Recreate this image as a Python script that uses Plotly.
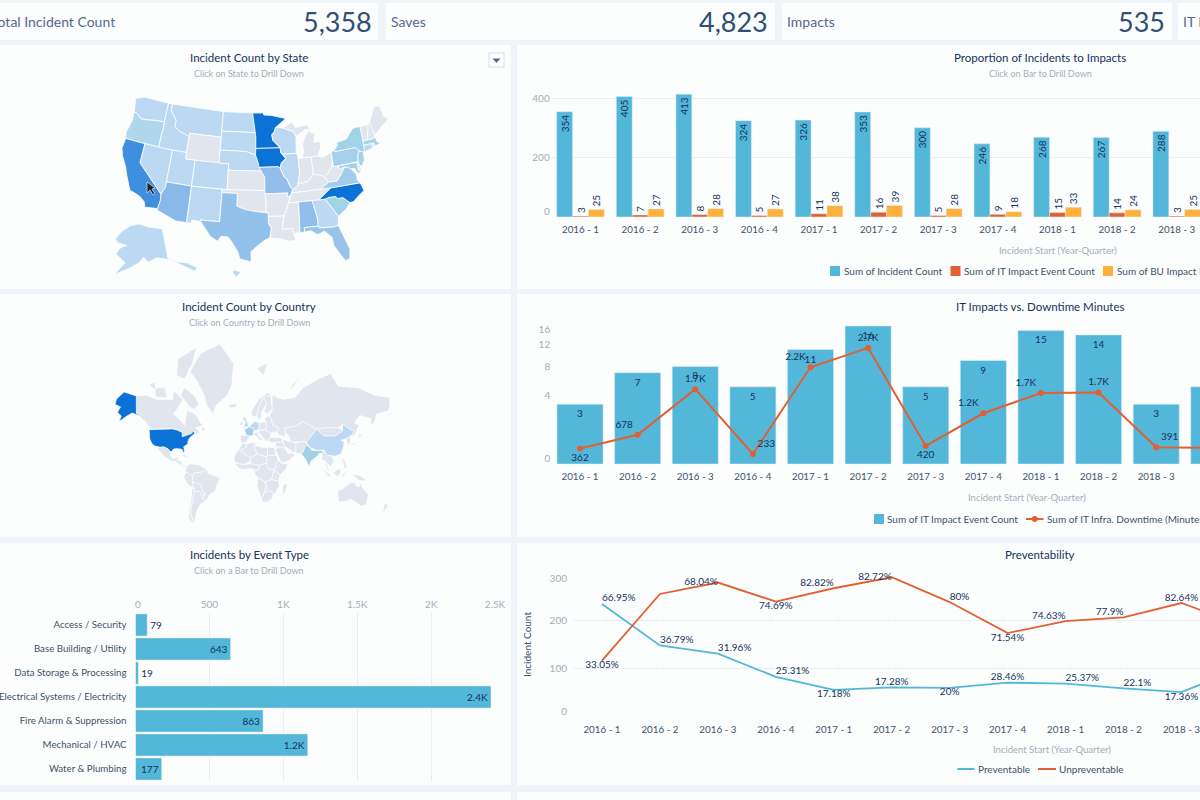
import numpy as np
import plotly.graph_objects as go

W, H = 1200, 800
FONT = "Lato"
NAVY = "#16325c"
GREY = "#a4adb8"
SLATE = "#54698d"
BLUE = "#52b7d8"
RED = "#e16032"
ORANGE = "#ffb03b"
GRID = "#eceff2"

quarters = ["2016 - 1", "2016 - 2", "2016 - 3", "2016 - 4", "2017 - 1", "2017 - 2",
            "2017 - 3", "2017 - 4", "2018 - 1", "2018 - 2", "2018 - 3", "2018 - 4"]

incident_count = [354, 405, 413, 324, 326, 353, 300, 246, 268, 267, 288]
it_impact_count = [3, 7, 8, 5, 11, 16, 5, 9, 15, 14, 3]
bu_impact_count = [25, 27, 28, 27, 38, 39, 28, 18, 33, 24, 25]
count_ticks = [0, 200, 400]
count_tick_text = ["0", "200", "400"]
count_label_at = [17, 200.01, 400.01]

it_events = [3, 7, 8, 5, 11, 16, 5, 9, 15, 14, 3, 5]
downtime = [362, 678, 1740, 233, 2250, 2700, 420, 1180, 1650, 1660, 391, 370]
downtime_text = ["362", "678", "1.7K", "233", "2.2K", "2.7K", "420", "1.2K", "1.7K", "1.7K", "391", ""]
downtime_pos = ["bottom center", "top left", "top center", "top right", "top left", "top center",
                "bottom center", "top left", "top left", "top center", "top right", "top right"]
sqrt_ticks = [0, 4, 8, 12, 16]
sqrt_label_at = [0.03, 4, 8, 12, 15.3]

preventable = [235, 148, 131, 82, 55, 60, 59, 70, 68, 58, 50, 99]
unpreventable = [116, 256, 280, 240, 268, 291, 239, 174, 199, 207, 237, 192]
prev_text = ["66.95%", "36.79%", "31.96%", "25.31%", "17.18%", "17.28%", "20%", "28.46%", "25.37%", "22.1%", "17.36%", ""]
prev_pos = ["top right", "top right", "top right", "top right", "bottom center", "top center",
            "bottom center", "top center", "top right", "top right", "bottom center", "top center"]
unprev_text = ["33.05%", "", "68.04%", "74.69%", "82.82%", "82.72%", "80%", "71.54%", "74.63%", "77.9%", "82.64%", ""]
unprev_pos = ["bottom center", "top center", "middle left", "bottom center", "top left", "middle left",
              "top right", "bottom center", "top left", "top left", "top center", "top center"]
incident_ticks = [0, 100, 200, 300]
incident_tick_text = ["0", "100", "200", "300"]
incident_label_at = [10, 100.01, 200.01, 289]

event_types = ["Access / Security", "Base Building / Utility", "Data Storage & Processing",
               "Electrical Systems / Electricity", "Fire Alarm & Suppression", "Mechanical / HVAC", "Water & Plumbing"]
event_counts = [79, 643, 19, 2405, 863, 1165, 177]
event_text = ["79", "643", "19", "2.4K", "863", "1.2K", "177"]
event_pos = ["outside", "inside", "outside", "inside", "inside", "inside", "inside"]
event_ticks = [0, 500, 1000, 1500, 2000, 2500]
event_tick_text = ["0", "500", "1K", "1.5K", "2K", "2.5K"]
event_label_at = [17, 500.01, 1000.01, 1500.01, 2000.01, 2432]

# Choropleth levels read from the shading (0 = no incidents, 100 = darkest)
state_level = {"MN": 100, "IA": 100, "NC": 100, "CA": 78, "AZ": 45, "TX": 40, "FL": 38, "AL": 42, "MO": 42,
               "PA": 32, "NY": 30, "VA": 33, "SC": 27, "NJ": 30, "MD": 30, "MA": 25, "WA": 18, "OR": 22, "ID": 18,
               "MT": 18, "ND": 18, "SD": 18, "NE": 18, "NV": 18, "UT": 18, "CO": 18, "NM": 18, "WI": 18, "IL": 18,
               "GA": 18, "AK": 18, "CT": 18, "HI": 18}
us_scale = [(0, "#e0e5ee"), (18, "#bcd9f3"), (27, "#a0d4e4"), (32, "#a4d0ee"), (45, "#8ab8e8"), (78, "#3f8fe0"),
            (100, "#0b73d6")]
country_level = {"USA": 100, "USA-AK": 100, "China": 18, "India": 27, "France": 32, "UK": 18, "Germany": 18}

# Simplified outlines as (lon, lat)
US_OUTLINES = {
    "WA": [(-124.7, 48.4), (-122.8, 49), (-117.03, 49), (-117.03, 46), (-119, 45.9), (-121, 45.65), (-122.3, 45.55), (-123.4, 46.2), (-124.1, 46.3)],
    "OR": [(-124.1, 46.3), (-123.4, 46.2), (-122.3, 45.55), (-121, 45.65), (-119, 45.9), (-117.03, 46), (-116.9, 45), (-117.03, 44.2), (-117.03, 42), (-124.2, 42), (-124.5, 43), (-124, 44.8)],
    "CA": [(-124.2, 42), (-120, 42), (-120, 39), (-114.63, 35), (-114.5, 34.2), (-114.72, 32.72), (-117.12, 32.53), (-117.4, 33.3), (-118.5, 34), (-120.6, 34.55), (-121.9, 36.6), (-122.5, 37.7), (-123.8, 39.3), (-124.35, 40.4)],
    "NV": [(-120, 42), (-114.04, 42), (-114.04, 36.2), (-114.63, 35), (-120, 39)],
    "ID": [(-117.03, 49), (-116.05, 49), (-116.05, 48), (-114.5, 46.6), (-114.5, 45.6), (-113.5, 45.1), (-111.05, 44.5), (-111.05, 42), (-114.04, 42), (-117.03, 42), (-117.03, 44.2), (-116.9, 45), (-117.03, 46)],
    "MT": [(-116.05, 49), (-104.05, 49), (-104.05, 45), (-111.05, 45), (-111.05, 44.5), (-113.5, 45.1), (-114.5, 45.6), (-114.5, 46.6), (-116.05, 48)],
    "WY": [(-111.05, 45), (-104.05, 45), (-104.05, 41), (-111.05, 41)],
    "UT": [(-114.04, 42), (-111.05, 42), (-111.05, 41), (-109.05, 41), (-109.05, 37), (-114.04, 37)],
    "AZ": [(-114.04, 37), (-109.05, 37), (-109.05, 31.33), (-111.07, 31.33), (-114.81, 32.5), (-114.72, 32.72), (-114.5, 34.2), (-114.63, 35), (-114.04, 36.2)],
    "CO": [(-109.05, 41), (-102.05, 41), (-102.05, 37), (-109.05, 37)],
    "NM": [(-109.05, 37), (-103, 37), (-103.04, 32), (-106.6, 32), (-106.5, 31.78), (-108.2, 31.78), (-108.2, 31.33), (-109.05, 31.33)],
    "ND": [(-104.05, 49), (-97.23, 49), (-96.6, 46.3), (-96.56, 45.94), (-104.05, 45.94)],
    "SD": [(-104.05, 45.94), (-96.56, 45.94), (-96.45, 45.3), (-96.45, 43.5), (-96.5, 42.5), (-98.5, 43), (-104.05, 43)],
    "NE": [(-104.05, 43), (-98.5, 43), (-96.5, 42.5), (-95.9, 41.2), (-95.3, 40), (-102.05, 40), (-102.05, 41), (-104.05, 41)],
    "KS": [(-102.05, 40), (-95.3, 40), (-94.62, 39.1), (-94.62, 37), (-102.05, 37)],
    "OK": [(-103, 37), (-94.62, 37), (-94.43, 35.4), (-94.48, 33.64), (-96.5, 33.8), (-98.5, 34.1), (-100, 34.56), (-100, 36.5), (-103, 36.5)],
    "TX": [(-103, 36.5), (-100, 36.5), (-100, 34.56), (-98.5, 34.1), (-96.5, 33.8), (-94.48, 33.64), (-94.04, 33.55), (-94.04, 31.99), (-93.55, 31.2), (-93.84, 29.7), (-94.7, 29.4), (-95.9, 28.6), (-97.2, 27.6), (-97.15, 25.96), (-99.1, 26.4), (-99.5, 27.5), (-100.7, 29.1), (-101.4, 29.77), (-102.6, 29.75), (-103.15, 28.98), (-104.5, 29.6), (-106.5, 31.78), (-106.6, 32), (-103.04, 32)],
    "MN": [(-97.23, 49), (-95.15, 49), (-95.15, 49.38), (-94.6, 48.7), (-92.9, 48.6), (-89.6, 48), (-92, 46.7), (-92.3, 46.1), (-92.9, 45.6), (-92.75, 44.75), (-91.2, 43.5), (-96.45, 43.5), (-96.45, 45.3), (-96.56, 45.94), (-96.6, 46.3)],
    "IA": [(-96.45, 43.5), (-91.2, 43.5), (-91.1, 42.7), (-90.15, 41.8), (-91.1, 41.2), (-91.42, 40.38), (-91.73, 40.61), (-95.77, 40.58), (-95.9, 41.2), (-96.5, 42.5)],
    "MO": [(-95.77, 40.58), (-91.73, 40.61), (-91.42, 40.38), (-90.7, 39), (-90.2, 38.7), (-89.5, 37.3), (-89.15, 36.95), (-89.7, 36), (-90.37, 36), (-90.15, 36.5), (-94.62, 36.5), (-94.62, 39.1), (-95.3, 40)],
    "AR": [(-94.62, 36.5), (-90.15, 36.5), (-90.37, 36), (-89.7, 36), (-90.1, 35), (-91.1, 33), (-94.04, 33.02), (-94.04, 33.55), (-94.48, 33.64), (-94.43, 35.4)],
    "LA": [(-94.04, 33.02), (-91.1, 33), (-91.6, 31), (-89.73, 31), (-89.6, 30.2), (-89.2, 29.1), (-90.6, 29.1), (-92.3, 29.55), (-93.84, 29.7), (-93.55, 31.2), (-94.04, 31.99)],
    "MS": [(-90.1, 35), (-88.2, 35), (-88.4, 30.3), (-89.6, 30.2), (-89.73, 31), (-91.6, 31), (-91.1, 33)],
    "WI": [(-92, 46.7), (-90.4, 46.55), (-88.1, 45.9), (-87.6, 45.1), (-87.8, 43), (-87.8, 42.5), (-90.64, 42.5), (-91.1, 42.7), (-91.2, 43.5), (-92.75, 44.75), (-92.9, 45.6), (-92.3, 46.1)],
    "IL": [(-90.64, 42.5), (-87.8, 42.5), (-87.53, 41.7), (-87.53, 39.3), (-88.05, 37.8), (-88.1, 37.5), (-89.15, 36.95), (-89.5, 37.3), (-90.2, 38.7), (-90.7, 39), (-91.42, 40.38), (-91.1, 41.2), (-90.15, 41.8)],
    "IN": [(-87.53, 41.7), (-84.8, 41.7), (-84.8, 39.1), (-86, 38), (-88.05, 37.8), (-87.53, 39.3)],
    "MI": [(-84.8, 41.7), (-83.45, 41.72), (-82.5, 43), (-82.6, 43.9), (-83.9, 43.9), (-83.4, 45.1), (-84.7, 45.75), (-85.6, 45), (-86.3, 43.9), (-86.3, 42.5), (-86.8, 41.76)],
    "MI-U": [(-90.4, 46.55), (-88.2, 47.4), (-87.5, 46.5), (-85, 46.7), (-84.1, 46), (-85.5, 46), (-87.6, 45.1), (-88.1, 45.9)],
    "OH": [(-84.8, 41.7), (-83.45, 41.72), (-82.5, 41.4), (-80.52, 42), (-80.52, 40.64), (-80.9, 39.7), (-81.7, 39), (-82.6, 38.45), (-84.8, 39.1)],
    "KY": [(-89.15, 36.95), (-88.1, 37.5), (-88.05, 37.8), (-86, 38), (-84.8, 39.1), (-82.6, 38.45), (-81.97, 37.54), (-83.67, 36.6), (-88.06, 36.5), (-89.4, 36.5)],
    "TN": [(-90.1, 35), (-89.7, 36), (-89.4, 36.5), (-88.06, 36.5), (-83.67, 36.6), (-81.68, 36.59), (-84.32, 35), (-88.2, 35)],
    "AL": [(-88.2, 35), (-85.6, 35), (-85, 32.3), (-85, 31), (-87.6, 31), (-87.5, 30.3), (-88.4, 30.3)],
    "GA": [(-85.6, 35), (-83.1, 35), (-81.1, 32.1), (-81.4, 30.7), (-82.2, 30.55), (-84.86, 30.7), (-85, 31), (-85, 32.3)],
    "FL": [(-87.6, 31), (-85, 31), (-84.86, 30.7), (-82.2, 30.55), (-81.4, 30.7), (-80.5, 28.4), (-80.03, 26.8), (-80.3, 25.3), (-81.1, 25.1), (-81.8, 26.2), (-82.7, 27.7), (-82.8, 29), (-84, 30.1), (-85.3, 29.7), (-86.4, 30.4), (-87.5, 30.3)],
    "SC": [(-83.1, 35), (-82.3, 35.2), (-81, 35.15), (-80.8, 34.82), (-79.7, 34.8), (-78.55, 33.86), (-79.3, 33.1), (-81.1, 32.1)],
    "NC": [(-84.32, 35), (-81.68, 36.59), (-75.9, 36.55), (-75.5, 35.25), (-76.6, 34.7), (-77.9, 33.9), (-78.55, 33.86), (-79.7, 34.8), (-80.8, 34.82), (-81, 35.15), (-82.3, 35.2), (-83.1, 35)],
    "VA": [(-83.67, 36.6), (-81.97, 37.54), (-80.3, 37.5), (-79.3, 38.4), (-78.35, 39.4), (-77.7, 39.3), (-77.1, 38.9), (-76.3, 37.9), (-76.3, 37), (-75.9, 36.55), (-81.68, 36.59)],
    "WV": [(-82.6, 38.45), (-81.7, 39), (-80.9, 39.7), (-80.52, 40.64), (-80.52, 39.72), (-79.48, 39.72), (-79.48, 39.2), (-78.35, 39.4), (-79.3, 38.4), (-80.3, 37.5), (-81.97, 37.54)],
    "PA": [(-80.52, 42), (-79.76, 42.27), (-79.76, 42), (-75.35, 42), (-74.7, 41.36), (-75.1, 40.9), (-75.4, 39.8), (-80.52, 39.72), (-80.52, 40.64)],
    "NY": [(-79.76, 42), (-79.76, 42.27), (-78.9, 42.9), (-79.1, 43.3), (-76.8, 43.6), (-76.2, 44.1), (-75, 45), (-73.35, 45), (-73.35, 43.6), (-73.5, 42.05), (-73.5, 41.3), (-73.9, 41), (-74.7, 41.36), (-75.35, 42)],
    "NJ": [(-74.7, 41.36), (-73.9, 41), (-74.1, 39.8), (-74.9, 38.95), (-75.5, 39.5), (-75.1, 40.9)],
    "DE": [(-75.75, 39.72), (-75.4, 39.8), (-75.05, 38.45), (-75.7, 38.45)],
    "MD": [(-79.48, 39.72), (-75.75, 39.72), (-75.7, 38.45), (-75.05, 38.45), (-75.9, 37.95), (-76.4, 38.9), (-77.1, 38.9), (-77.7, 39.3), (-78.35, 39.4), (-79.48, 39.2)],
    "CT": [(-73.5, 42.05), (-71.8, 42.02), (-71.85, 41.32), (-73.7, 41)],
    "RI": [(-71.8, 42.02), (-71.38, 42.02), (-71.2, 41.5), (-71.85, 41.32)],
    "MA": [(-73.5, 42.75), (-71.3, 42.7), (-70.8, 42.85), (-70.6, 42.1), (-70, 41.7), (-71.2, 41.5), (-71.38, 42.02), (-73.5, 42.05)],
    "VT": [(-73.35, 45), (-71.5, 45), (-72.45, 42.73), (-73.5, 42.75), (-73.35, 43.6)],
    "NH": [(-71.5, 45), (-71.08, 45.3), (-70.7, 43.1), (-70.8, 42.85), (-71.3, 42.7), (-72.45, 42.73)],
    "ME": [(-71.08, 45.3), (-70.3, 46.2), (-69.2, 47.45), (-68.3, 47.35), (-67.8, 47.05), (-67.8, 45.7), (-67, 44.9), (-69, 44), (-70.7, 43.1)],
}
AK_OUTLINE = [(-168, 65.6), (-166, 68.3), (-162, 70.3), (-156.5, 71.3), (-150, 70.4), (-141, 69.6), (-141, 60.3), (-137, 58.6), (-133.5, 58), (-130, 55.9), (-131.5, 55), (-134, 56.5), (-136.5, 58), (-140, 59.7), (-146, 60.6), (-150, 59.3), (-152, 60.8), (-154, 59), (-158, 57), (-163, 54.8), (-160, 58.7), (-162, 59.7), (-165, 61), (-164, 63), (-161, 64.2), (-166, 64.6)]
HI_OUTLINE = [(-156, 20.2), (-155.1, 19.9), (-155.6, 19), (-156, 19.6)]

WORLD_OUTLINES = {
    "Greenland": [(-73, 78), (-60, 82), (-35, 83.5), (-18, 80), (-20, 74), (-26, 70), (-40, 65), (-44, 60), (-52, 65), (-55, 70), (-66, 76)],
    "Canada": [(-141, 69.6), (-128, 70), (-115, 68), (-95, 68), (-94, 72), (-82, 68), (-88, 64), (-94, 60), (-85, 55.5), (-80, 52), (-79, 55), (-77, 62), (-70, 61), (-65, 59), (-60, 54), (-56, 52), (-66, 50), (-60, 46), (-66, 44), (-67, 47), (-71, 45), (-76, 44), (-79, 43), (-83, 42), (-83, 46), (-89, 48), (-95, 49), (-123, 49), (-130, 55), (-137, 59), (-141, 60)],
    "Baffin": [(-80, 73), (-68, 70), (-62, 66), (-68, 62.5), (-75, 65), (-85, 70)],
    "Victoria": [(-118, 73), (-105, 73), (-102, 69), (-116, 69)],
    "Ellesmere": [(-90, 77), (-88, 81), (-65, 83), (-70, 80), (-80, 76)],
    "Banks": [(-125, 74), (-118, 75), (-116, 72)],
    "Newfoundland": [(-59, 48), (-53, 47), (-56, 51.5)],
    "USA-AK": [(-168, 65.6), (-166, 68.3), (-156.5, 71.3), (-141, 69.6), (-141, 60.3), (-137, 59), (-130, 55), (-134, 58), (-146, 60.6), (-152, 59), (-163, 54.8), (-160, 58.7), (-165, 61), (-161, 64.2)],
    "USA": [(-124.7, 48.4), (-95, 49), (-89, 48), (-83, 46), (-83, 42), (-79, 43), (-76, 44), (-71, 45), (-69, 47.4), (-67, 45), (-70, 43.5), (-74, 40.6), (-76, 37), (-75.5, 35.2), (-81, 32), (-80, 26), (-81.5, 25.5), (-83, 29), (-89, 30), (-94, 29.5), (-97.2, 26), (-101, 29.7), (-106.5, 31.8), (-111, 31.3), (-117, 32.5), (-121, 35), (-124, 40)],
    "Mexico": [(-117, 32.5), (-111, 31.3), (-106.5, 31.8), (-101, 29.7), (-97.2, 26), (-97.8, 22), (-95, 18.5), (-91, 19), (-87, 21.5), (-88.5, 18), (-92, 14.6), (-97, 16), (-105, 20), (-109, 25), (-113, 29)],
    "Central America": [(-92, 14.6), (-88.5, 18), (-88, 16), (-83.5, 15), (-83.5, 10.8), (-77.3, 8.7), (-80, 7.5), (-85, 10), (-88, 13)],
    "Cuba": [(-85, 22), (-80, 23), (-74, 20), (-78, 20)],
    "Colombia-Venezuela": [(-77.3, 8.7), (-72, 12), (-62, 10.7), (-52, 5), (-51, 4), (-60, 1), (-67, 1), (-70, -4), (-75, 0), (-79, 1)],
    "Peru": [(-79, 1), (-75, 0), (-70, -4), (-70, -11), (-69, -17), (-70, -18), (-76, -14), (-81, -5)],
    "Brazil": [(-51, 4), (-50, 0), (-35, -6), (-39, -15), (-41, -22), (-48, -26), (-53, -33.5), (-57.5, -30), (-54, -26), (-58, -20), (-60, -14), (-70, -11), (-70, -4), (-67, 1), (-60, 1)],
    "Bolivia": [(-70, -11), (-60, -14), (-58, -20), (-54, -26), (-58, -27), (-62, -22), (-67, -23), (-69, -17)],
    "Chile": [(-70, -18), (-69, -17), (-67, -23), (-70, -33), (-72, -45), (-68, -54), (-75, -50), (-73, -37)],
    "Argentina": [(-67, -23), (-62, -22), (-58, -27), (-54, -26), (-57.5, -30), (-53, -33.5), (-58, -35), (-62, -39), (-65, -45), (-68, -54), (-72, -45), (-70, -33)],
    "Iceland": [(-24, 65.5), (-14, 66), (-14, 64.5), (-22, 63.5)],
    "UK": [(-5.5, 50), (1.5, 51.5), (-2, 56), (-3, 58.6), (-6, 57), (-3, 54)],
    "Ireland": [(-10, 52), (-6, 52), (-6, 55), (-10, 54.5)],
    "France": [(-4.5, 48.5), (2.5, 51), (8, 49), (7.5, 44), (3, 42.5), (-1.5, 43.5)],
    "Spain": [(-9, 43.5), (-1.5, 43.5), (3, 42.5), (0, 38.5), (-2, 36.8), (-5.5, 36), (-9, 37)],
    "Norway": [(5, 59), (5, 62), (14, 68), (25, 71), (31, 70), (20, 69), (14, 64), (12, 59), (8, 58)],
    "Sweden": [(12, 59), (14, 64), (20, 69), (24, 66), (17, 61), (18, 59), (14, 55.5)],
    "Finland": [(24, 66), (20, 69), (29, 70), (31, 62.5), (23, 60), (21, 62)],
    "Germany": [(2.5, 51), (7, 53.5), (9, 55), (14, 54), (15, 51), (13, 48), (8, 47.6), (8, 49)],
    "Italy": [(7, 46), (13, 46.5), (13, 44), (18.5, 40), (16, 38), (12, 42), (7.5, 44)],
    "Poland": [(14, 54), (23, 54.5), (24, 50), (22, 48.5), (17, 48), (13, 48), (15, 51)],
    "Balkans": [(13, 46.5), (17, 48), (22, 48.5), (29, 45), (28, 41), (23, 37), (19, 42), (13.5, 45.5)],
    "Ukraine": [(23, 54.5), (21, 57), (28, 59), (32, 52), (40, 49.5), (37, 46.5), (30, 46), (29, 45), (22, 48.5), (24, 50)],
    "Russia": [(28, 59), (31, 62.5), (31, 70), (44, 68), (60, 69), (70, 73), (90, 76), (105, 77.5), (115, 73.5), (140, 73), (160, 70), (180, 69), (180, 65), (178, 62), (163, 60), (162, 56), (156, 51), (156, 57), (142, 59), (135, 54), (141, 52), (135, 43), (131, 43), (131, 48), (120, 53), (115, 50), (98, 50), (87, 49), (70, 55), (60, 51), (47, 50), (48, 46), (47, 42), (40, 43.5), (37, 46.5), (40, 49.5), (32, 52)],
    "Kazakhstan": [(47, 50), (60, 51), (70, 55), (87, 49), (80, 42), (74, 37), (66, 37), (54, 37), (53, 42), (48, 46)],
    "Mongolia": [(87, 49), (98, 50), (115, 50), (120, 47), (111, 43), (96, 42.7)],
    "China": [(74, 37), (80, 42), (87, 49), (96, 42.7), (111, 43), (120, 47), (120, 53), (131, 48), (135, 48), (131, 43), (124, 40), (118, 39), (122, 37), (121, 31), (118, 24), (110, 21), (106, 22), (101, 21.5), (98, 25), (97, 28), (88, 28), (79, 31)],
    "Korea": [(124.5, 40), (130, 42.5), (129.5, 35), (126.5, 34.5)],
    "Japan": [(130, 32), (136, 35), (141, 41), (145, 44), (141, 45), (139, 38), (132, 35)],
    "Turkey": [(26, 40), (29, 41.3), (41, 41.5), (44.5, 39.5), (44, 37), (36, 36.5), (28, 36.5)],
    "Iran": [(44.5, 39.5), (54, 37), (61, 36), (61, 25), (57, 26), (50, 30), (46, 33)],
    "Iraq": [(36, 36.5), (44, 37), (46, 33), (48, 30), (40, 32), (35, 31)],
    "Arabia": [(35, 29), (40, 32), (48, 30), (51, 24.5), (56, 25), (60, 22), (52, 16), (43, 12.8), (39, 21)],
    "Pakistan": [(61, 36), (66, 37), (74, 37), (77, 32), (71, 28), (68, 23.7), (61, 25)],
    "India": [(74, 34), (79, 31), (81, 28), (88, 27.5), (96, 28), (94, 24), (91, 25), (89, 22), (80, 15), (78, 8), (73, 18), (70, 21), (68, 23.7), (71, 28)],
    "SE Asia": [(94, 24), (96, 28), (98, 25), (101, 21.5), (106, 22), (109, 15), (105, 9), (100, 13), (103, 2), (100, 6), (98, 16), (94, 16)],
    "Sumatra": [(95, 5.5), (104, -2), (106, -6), (101, -3)],
    "Borneo": [(109, 1), (117, 6.8), (118, 1), (114, -4), (110, -2)],
    "Java": [(105, -6.5), (114, -7), (114, -8.5), (106, -7.5)],
    "Sulawesi": [(119, -1), (125, 1), (122, -4), (120, -5)],
    "New Guinea": [(131, -1), (141, -2.5), (147, -6), (150, -10), (141, -9), (134, -4)],
    "Philippines": [(120, 18), (122, 18), (126, 7), (122, 7)],
    "Australia": [(114, -22), (122, -18), (130, -12), (136, -12), (136, -15), (141, -17), (142, -11), (146, -19), (153, -26), (150, -37), (144, -38.5), (138, -35), (131, -31.5), (123, -34), (115, -34)],
    "New Zealand": [(173, -35), (178, -38), (174, -42), (167, -46), (172, -41)],
    "Morocco": [(-6, 36), (-2, 35), (-1, 32), (-9, 28), (-13, 27.5), (-10, 31)],
    "Algeria": [(-2, 35), (9, 37), (9, 30), (12, 24), (3, 19), (-5, 25), (-9, 28), (-1, 32)],
    "Libya": [(9, 37), (11, 33), (20, 31), (25, 31.5), (25, 20), (15, 23), (12, 24), (9, 30)],
    "Egypt": [(25, 31.5), (34, 31), (35, 24), (37, 22), (25, 22)],
    "Mali": [(-13, 27.5), (-9, 28), (-5, 25), (3, 19), (4, 15), (-5, 11), (-12, 12), (-17, 15), (-17, 21)],
    "Niger": [(3, 19), (12, 24), (15, 23), (24, 20), (24, 13), (15, 10), (4, 12), (4, 15)],
    "Sudan": [(24, 20), (25, 22), (37, 22), (38, 17), (36, 11), (34, 4), (27, 5), (24, 10), (24, 13)],
    "Ethiopia": [(38, 17), (43, 12), (51, 12), (48, 5), (41, -2), (34, 4), (36, 11)],
    "West Africa": [(-16.7, 12.5), (-12, 12), (-5, 11), (4, 12), (15, 10), (14, 4), (9, 4), (5, 6), (-4, 5), (-8, 4.5), (-13, 8.5)],
    "Congo": [(9, 4), (14, 4), (15, 10), (24, 13), (24, 10), (27, 5), (34, 4), (30, -8), (22, -11), (13, -6), (9, -1)],
    "Tanzania": [(34, 4), (41, -2), (39, -10), (30, -8)],
    "Angola": [(13, -6), (22, -11), (24, -17), (20, -25), (20, -29), (17, -29), (12, -17)],
    "Mozambique": [(22, -11), (30, -8), (39, -10), (40, -16), (35, -24), (32, -26), (30, -22), (26, -22), (20, -25), (24, -17)],
    "South Africa": [(17, -29), (20, -29), (20, -25), (26, -22), (30, -22), (32, -26), (32, -29), (26, -34), (19, -34.5)],
    "Madagascar": [(44, -16), (49.5, -12), (50, -16), (47, -25), (44, -24)],
    "Svalbard": [(11, 79), (25, 80), (20, 77)],
    "Novaya Zemlya": [(52, 71), (68, 77), (56, 74)],
}


def dx(a, b):
    return [a / W, b / W]


def dy(top, bottom):
    return [1 - bottom / H, 1 - top / H]


def albers(points, lon0=-96.0, lat0=37.5, p1=29.5, p2=45.5):
    lon, lat = np.radians(np.array(points, dtype=float)).T
    l0, f0, f1, f2 = np.radians([lon0, lat0, p1, p2])
    n = (np.sin(f1) + np.sin(f2)) / 2
    c = np.cos(f1) ** 2 + 2 * n * np.sin(f1)
    rho = np.sqrt(c - 2 * n * np.sin(lat)) / n
    rho0 = np.sqrt(c - 2 * n * np.sin(f0)) / n
    theta = n * (lon - l0)
    return rho * np.sin(theta), rho0 - rho * np.cos(theta)


def fit(x, y, box, bounds=None):
    x0, x1, y0, y1 = bounds if bounds else (x.min(), x.max(), y.min(), y.max())
    return (box[0] + (x - x0) / (x1 - x0) * (box[1] - box[0]),
            box[2] + (y1 - y) / (y1 - y0) * (box[3] - box[2]))


def shade(level, scale):
    hexes = [s[1] for s in scale]
    rgb = np.array([[int(h[i:i + 2], 16) for i in (1, 3, 5)] for h in hexes])
    stops = [s[0] for s in scale]
    vals = [np.interp(level, stops, rgb[:, k]) for k in range(3)]
    return "rgb(%d,%d,%d)" % tuple(vals)


def mercator(lat):
    return np.log(np.tan(np.pi / 4 + np.radians(np.array(lat, dtype=float)) / 2))


def add_region(name, x, y, color, xa, ya, width):
    fig.add_trace(go.Scatter(x=np.append(x, x[0]), y=np.append(y, y[0]), name=name, mode="lines", fill="toself",
                             fillcolor=color, line=dict(color="#ffffff", width=width), hoverinfo="skip",
                             showlegend=False, xaxis=xa, yaxis=ya))


fig = go.Figure()

# ---------- US map (projected, drawn on hidden axes) ----------
all_xy = [albers(p) for p in US_OUTLINES.values()]
bounds = (min(a[0].min() for a in all_xy), max(a[0].max() for a in all_xy),
          min(a[1].min() for a in all_xy), max(a[1].max() for a in all_xy))
for key, pts in US_OUTLINES.items():
    code = key.split("-")[0]
    px, py = fit(*albers(pts), (122, 388, 97, 262), bounds)
    add_region(code, px, py, shade(state_level.get(code, 0), us_scale), "x5", "y6", 0.8)
ak = fit(*albers(AK_OUTLINE, lon0=-150, lat0=60, p1=55, p2=65), (115, 197, 224, 274))
add_region("AK", ak[0], ak[1], shade(state_level["AK"], us_scale), "x5", "y6", 0.5)
hi = fit(*albers(HI_OUTLINE, lon0=-156, lat0=20, p1=18, p2=22), (233, 241, 270, 277))
add_region("HI", hi[0], hi[1], shade(state_level["HI"], us_scale), "x5", "y6", 0.5)

# ---------- World map ----------
for name, pts in WORLD_OUTLINES.items():
    lon, lat = np.array(pts, dtype=float).T
    add_region(name, lon, mercator(lat), shade(country_level.get(name, 0), us_scale), "x6", "y7", 0.6)

# ---------- bars: proportion ----------
for name, vals, col, pos in [("Sum of Incident Count", incident_count, BLUE, "inside"),
                             ("Sum of IT Impact Event Count", it_impact_count, RED, "outside"),
                             ("Sum of BU Impact Event Count", bu_impact_count, ORANGE, "outside")]:
    fig.add_trace(go.Bar(x=quarters[:11], y=vals, name=name, marker_color=col, text=vals,
                         textposition=pos, insidetextanchor="end", textangle=-90,
                         textfont=dict(size=10, color=NAVY), constraintext="none",
                         xaxis="x", yaxis="y", showlegend=False, cliponaxis=False))

# ---------- combo ----------
fig.add_trace(go.Bar(x=quarters, y=np.sqrt(it_events), name="Sum of IT Impact Event Count",
                     marker_color=BLUE, text=it_events, textposition="inside", insidetextanchor="end",
                     textangle=0, textfont=dict(size=10, color=NAVY), constraintext="none",
                     xaxis="x2", yaxis="y2", showlegend=False))
fig.add_trace(go.Scatter(x=quarters, y=downtime, name="Sum of IT Infra. Downtime (Minutes)", mode="lines+markers+text",
                         line=dict(color=RED, width=2), marker=dict(color=RED, size=6),
                         text=downtime_text, textposition=downtime_pos, textfont=dict(size=10, color=NAVY),
                         xaxis="x2", yaxis="y5", showlegend=False, cliponaxis=False))

# ---------- lines ----------
fig.add_trace(go.Scatter(x=quarters, y=preventable, name="Preventable", mode="lines+text",
                         line=dict(color=BLUE, width=1.8), text=prev_text, textposition=prev_pos,
                         textfont=dict(size=10, color=NAVY), xaxis="x3", yaxis="y3", showlegend=False))
fig.add_trace(go.Scatter(x=quarters, y=unpreventable, name="Unpreventable", mode="lines+text",
                         line=dict(color=RED, width=1.8), text=unprev_text, textposition=unprev_pos,
                         textfont=dict(size=10, color=NAVY), xaxis="x3", yaxis="y3", showlegend=False,
                         cliponaxis=False))

# ---------- horizontal bars ----------
fig.add_trace(go.Bar(y=event_types, x=event_counts, orientation="h", marker_color=BLUE, width=0.92,
                     text=event_text, textposition=event_pos, insidetextanchor="end", textangle=0,
                     textfont=dict(size=10, color=NAVY), constraintext="none",
                     xaxis="x4", yaxis="y4", showlegend=False))

ax_common = dict(showline=False, zeroline=False, ticks="", tickfont=dict(family=FONT, size=9.8, color="#3e5268"),
                 fixedrange=True)
yax_common = dict(zeroline=False, showline=False, ticks="", tickfont=dict(family=FONT, size=10, color=GREY),
                  showgrid=False, fixedrange=True)
hidden = dict(visible=False, fixedrange=True)

shapes = []
ann = []


def px_rect(x0, y0, x1, y1, **kw):
    shapes.append(dict(type="rect", xref="paper", yref="paper", x0=x0 / W, x1=x1 / W, y0=1 - y1 / H, y1=1 - y0 / H, **kw))


def label(x, y, text, size, color, anchor="center"):
    shift = {"left": -2, "right": 2, "center": 0}[anchor]
    ann.append(dict(xref="paper", yref="paper", x=(x + shift) / W, y=1 - y / H, text=text, showarrow=False,
                    xanchor=anchor, yanchor="middle", font=dict(family=FONT, size=size, color=color)))


panels = [(-5, 3, 378, 40), (386, 3, 775, 40), (782, 3, 1172, 40), (1178, 3, 1205, 40),
          (-5, 45, 511, 289), (517, 45, 1205, 289),
          (-5, 294, 511, 537), (517, 294, 1205, 537),
          (-5, 543, 511, 785), (517, 543, 1205, 785),
          (-5, 792, 511, 805), (517, 792, 1205, 805)]
for p in panels:
    px_rect(*p, fillcolor="#fcfdfd", line_width=0, layer="below")

# dropdown button
px_rect(489, 53, 504, 67, fillcolor="#ffffff", line=dict(color="#d8dde6", width=1))
shapes.append(dict(type="path", xref="paper", yref="paper", fillcolor=SLATE, line_width=0,
                   path=f"M {492.5/W} {1-58.5/H} L {500.5/W} {1-58.5/H} L {496.5/W} {1-63/H} Z"))
# mouse cursor
shapes.append(dict(type="path", xref="paper", yref="paper", fillcolor="#1d2530", line=dict(color="#dfe6ee", width=0.7),
                   path=f"M {147/W} {1-182/H} L {147/W} {1-193/H} L {150/W} {1-190/H} L {153/W} {1-195/H} "
                        f"L {155/W} {1-194/H} L {152/W} {1-189/H} L {155/W} {1-188/H} Z"))

for x, t in [(-9, "Total Incident Count"), (391, "Saves"), (787, "Impacts"), (1183, "IT Impacts")]:
    label(x, 22, t, 14, SLATE, "left")
for x, t in [(372, "5,358"), (768, "4,823"), (1165, "535")]:
    label(x, 22, t, 27, "#2f4f74", "right")

for x, y, t in [(249, 57.5, "Incident Count by State"), (1040, 57.5, "Proportion of Incidents to Impacts"),
                (249, 306.5, "Incident Count by Country"), (1040, 306.5, "IT Impacts vs. Downtime Minutes"),
                (249, 554.5, "Incidents by Event Type"), (1040, 554.5, "Preventability")]:
    label(x, y, t, 11.5, NAVY)
for x, y, t in [(249, 73.5, "Click on State to Drill Down"), (1040, 73.5, "Click on Bar to Drill Down"),
                (249, 322.5, "Click on Country to Drill Down"), (249, 570.5, "Click on a Bar to Drill Down")]:
    label(x, y, t, 9, GREY)
for x, y in [(1058, 250), (1027, 497), (1052, 749)]:
    label(x, y, "Incident Start (Year-Quarter)", 9.5, GREY)


def legend_box(x, y, color, text, text_x):
    px_rect(x, y - 5, x + 10, y + 5, fillcolor=color, line_width=0)
    label(text_x, y, text, 10, "#3e5268", "left")


def legend_line(x0, x1, y, color, text, text_x, dot=False):
    shapes.append(dict(type="line", xref="paper", yref="paper", x0=x0 / W, x1=x1 / W, y0=1 - y / H, y1=1 - y / H,
                       line=dict(color=color, width=2)))
    if dot:
        cx = (x0 + x1) / 2
        shapes.append(dict(type="circle", xref="paper", yref="paper", x0=(cx - 3) / W, x1=(cx + 3) / W,
                           y0=1 - (y + 3) / H, y1=1 - (y - 3) / H, fillcolor=color, line_width=0))
    label(text_x, y, text, 10, "#3e5268", "left")


legend_box(830, 271, BLUE, "Sum of Incident Count", 843.5)
legend_box(950.5, 271, RED, "Sum of IT Impact Event Count", 964)
legend_box(1103, 271, ORANGE, "Sum of BU Impact Event Count", 1116.5)
legend_box(874, 519, BLUE, "Sum of IT Impact Event Count", 887)
legend_line(1026, 1043.5, 519, RED, "Sum of IT Infra. Downtime (Minutes)", 1047, dot=True)
legend_line(957.5, 974.5, 769, BLUE, "Preventable", 978)
legend_line(1038, 1056, 769, RED, "Unpreventable", 1059)

fig.update_layout(
    width=W, height=H, margin=dict(l=0, r=0, t=0, b=0, autoexpand=False), autosize=False,
    paper_bgcolor="#eef4f8", plot_bgcolor="rgba(0,0,0,0)", font=dict(family=FONT, color=NAVY),
    barmode="group", bargap=0.2, bargroupgap=0, shapes=shapes, annotations=ann, hovermode=False, showlegend=False,
    xaxis=dict(ax_common, domain=dx(550.7, 1200), range=[-0.5, 10.39], type="category",
               anchor="y", ticklabelstandoff=5, categoryorder="array", categoryarray=quarters),
    yaxis=dict(yax_common, domain=dy(90, 217), range=[0, 427], tickmode="array", tickvals=count_label_at,
               ticktext=count_tick_text, anchor="x",
               minor=dict(tickmode="array", tickvals=count_ticks, showgrid=True, gridcolor=GRID, ticks="")),
    xaxis2=dict(ax_common, domain=dx(551.2, 1200), range=[-0.5, 10.76], type="category",
                anchor="y2", categoryorder="array", categoryarray=quarters, ticklabelstandoff=5),
    yaxis2=dict(yax_common, domain=dy(326, 464), range=[0, 4], tickvals=np.sqrt(sqrt_label_at), ticktext=sqrt_ticks,
                anchor="x2"),
    yaxis5=dict(domain=dy(326, 464), range=[0, 3209], overlaying="y2", visible=False, anchor="x2", fixedrange=True),
    xaxis3=dict(ax_common, domain=dx(573, 1200), range=[-0.5, 10.32], type="category",
                anchor="y3", categoryorder="array", categoryarray=quarters, ticklabelstandoff=6),
    yaxis3=dict(yax_common, domain=dy(573, 716), range=[0, 300], tickmode="array", tickvals=incident_label_at,
                ticktext=incident_tick_text, anchor="x3", ticklabelstandoff=5,
                minor=dict(tickmode="array", tickvals=incident_ticks, showgrid=True, gridcolor=GRID, ticks=""),
                title=dict(text="Incident Count", standoff=16, font=dict(family=FONT, size=10, color="#3e5268"))),
    xaxis4=dict(ax_common, domain=dx(135.5, 505), range=[0, 2500], side="top", tickmode="array",
                tickvals=event_label_at, ticktext=event_tick_text, tickfont=dict(family=FONT, size=10, color=GREY),
                showgrid=False, anchor="y4", ticklabelstandoff=2,
                minor=dict(tickmode="array", tickvals=event_ticks, showgrid=True, gridcolor=GRID, ticks="")),
    yaxis4=dict(ax_common, domain=dy(613, 781), autorange="reversed", type="category", anchor="x4",
                ticklabelstandoff=8, showgrid=False, tickfont=dict(family=FONT, size=9.7, color="#3e5268")),
    xaxis5=dict(hidden, domain=dx(105, 400), range=[105, 400], anchor="y6"),
    yaxis6=dict(hidden, domain=dy(90, 282), range=[282, 90], anchor="x5"),
    xaxis6=dict(hidden, domain=dx(100, 400), range=[-187, 192.8], anchor="y7"),
    yaxis7=dict(hidden, domain=dy(340, 530), range=[-1.26, 2.96], anchor="x6"),
)

fig.write_html("out.html", config={"displayModeBar": False},
               post_script="document.body.style.margin='0';document.documentElement.style.overflow='hidden';")
